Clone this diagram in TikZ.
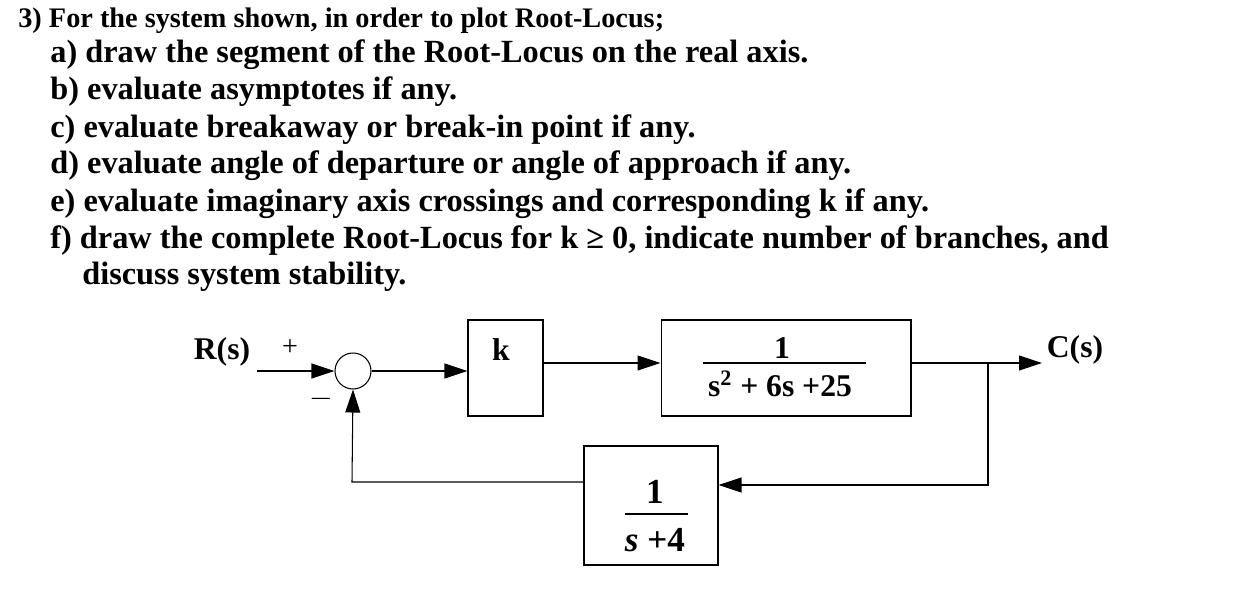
\documentclass[tikz,border=0pt]{standalone}
\usepackage{fontspec}
\setmainfont{Liberation Serif}
\usetikzlibrary{arrows.meta}
\begin{document}
\begin{tikzpicture}[x=0.02cm,y=-0.02cm,
  blk/.style={draw,line width=0.6pt,inner sep=0},
  con/.style={line width=0.6pt,-{Triangle[length=0.46cm,width=0.3cm]}},
  ln/.style={line width=0.6pt},
  txt/.style={font=\fontsize{18.4}{22}\selectfont\bfseries,anchor=base west,inner sep=0},
  dtxt/.style={font=\fontsize{18}{22}\selectfont\bfseries,anchor=center,inner sep=0}]
\useasboundingbox (0,0) rectangle (1240,608);
\node[txt,font=\fontsize{16.1}{20}\selectfont\bfseries] (l0) at (18,28) {3) For the system shown, in order to plot Root-Locus;};
\node[txt] (l1) at (50,63) {a) draw the segment of the Root-Locus on the real axis.};
\node[txt] (l2) at (50,100) {b) evaluate asymptotes if any.};
\node[txt] (l3) at (50,137) {c) evaluate breakaway or break-in point if any.};
\node[txt] (l4) at (50,173) {d) evaluate angle of departure or angle of approach if any.};
\node[txt] (l5) at (50,211) {e) evaluate imaginary axis crossings and corresponding k if any.};
\node[txt] (l6) at (50,248) {f) draw the complete Root-Locus for k ≥ 0, indicate number of branches, and};
\node[txt] (l7) at (82,284) {discuss system stability.};
% diagram
\node[dtxt] (R) at (222,352) {R(s)};
\node[font=\fontsize{16}{18}\selectfont] (plus) at (290,348) {+};
\node[font=\fontsize{16}{18}\selectfont] (minus) at (321,399) {$-$};
\node[draw,circle,minimum size=0.72cm,inner sep=0,line width=0.6pt] (sum) at (353,371) {};
\coordinate (rin) at (257,371);
\node[blk,minimum width=1.5cm,minimum height=1.92cm] (K) at (505.5,368) {};
\node[dtxt] (kt) at (501,350) {k};
\node[blk,minimum width=5cm,minimum height=1.92cm] (G) at (786,368) {};
\node[dtxt] (g1) at (782,348) {1};
\draw[ln] (703,363) -- (866,363);
\node[dtxt] (g2) at (780,384) {s\textsuperscript{2} + 6s +25};
\node[blk,minimum width=2.68cm,minimum height=2.38cm] (H) at (651,505.5) {};
\node[dtxt,font=\fontsize{20}{22}\selectfont\bfseries] (h1) at (655,492) {1};
\draw[line width=1.4pt] (625,514) -- (688,514);
\node[dtxt,font=\fontsize{20}{22}\selectfont\bfseries] (h2) at (655,540) {\textit{s} +4};
\node[dtxt] (C) at (1075,350) {C(s)};
\coordinate (cout) at (1042,363);
\coordinate (br) at (988,363);
\coordinate (brd) at (988,485);
\coordinate (fb) at (352,482);
\draw[con] (rin) -- (sum.west);
\draw[con] (sum.east) -- (sum.east -| K.west);
\draw[con] (K.east |- 0,363) -- (G.west |- 0,363);
\draw[con] (G.east |- 0,363) -- (cout);
\draw[con] (br) -- (brd) -- (H.east |- brd);
\draw[con] (H.west |- fb) -- (fb) -- (sum.south);
\end{tikzpicture}
\end{document}
